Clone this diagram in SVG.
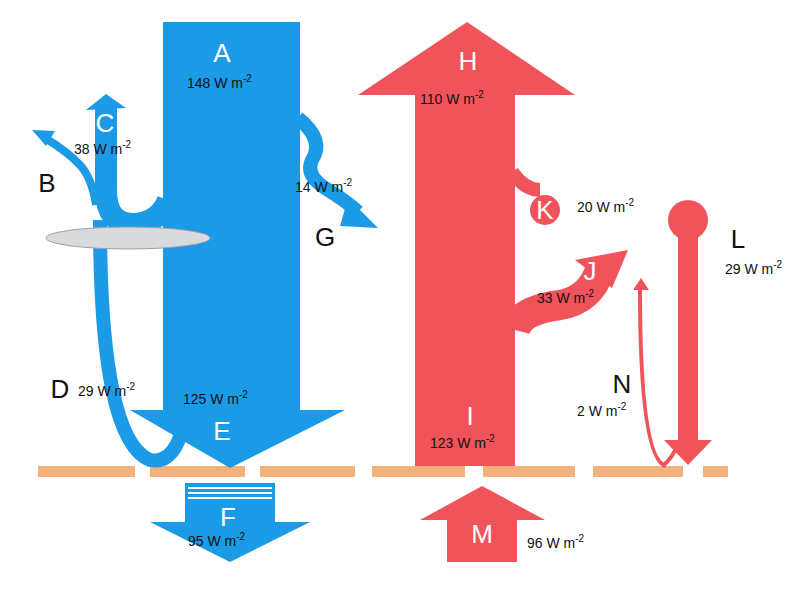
<svg xmlns="http://www.w3.org/2000/svg" width="806" height="600" viewBox="0 0 806 600">
<style>
.b{fill:#1b9ae6}.r{fill:#f0545a}.bs{fill:none;stroke:#1b9ae6}.rs{fill:none;stroke:#f0545a}
.g{fill:#f2b07a}
.L{font-family:"Liberation Sans",Arial,sans-serif;font-size:26px;fill:#fff;text-anchor:middle}
.K{font-family:"Liberation Sans",Arial,sans-serif;font-size:26px;fill:#111;text-anchor:middle}
.v{font-family:"Liberation Sans",Arial,sans-serif;font-size:14px;fill:#111}
</style>
<rect width="806" height="600" fill="#fff"/>
<g id="ground">
<rect class="g" x="38" y="466" width="97" height="11"/><rect class="g" x="150" y="466" width="95" height="11"/><rect class="g" x="260" y="466" width="95" height="11"/><rect class="g" x="372" y="466" width="93" height="11"/><rect class="g" x="483" y="466" width="92" height="11"/><rect class="g" x="593" y="466" width="90" height="11"/><rect class="g" x="703" y="466" width="25" height="11"/>
</g>
<g id="connectors">
<path class="bs" stroke-width="22" d="M106 108 V190 Q106 225 135 224 Q160 222 168 200"/>
<polygon class="b" points="86,110 106,94 126,108"/>
<path class="bs" stroke-width="8" d="M96 205 Q92 178 80 165 Q68 152 45 138"/>
<polygon class="b" points="32,130 55,131 46,146"/>
<path class="bs" stroke-width="14" d="M100 220 Q100 440 150 460 Q175 465 185 420"/>
<path class="bs" stroke-width="14" d="M298 118 Q325 140 312 160 Q305 175 325 188 Q345 200 358 212"/>
<polygon class="b" points="348,198 378,228 340,226"/>
<path class="rs" stroke-width="14" d="M512 172 Q525 190 540 190"/>
<path class="rs" stroke-width="30" d="M515 330 Q520 310 560 305 Q590 300 600 270"/>
<polygon class="r" points="575,260 628,250 612,288"/>
<path class="rs" stroke-width="4" d="M666 466 Q640 460 640 290"/>
<polygon class="r" points="633,290 641,278 649,290"/>
<path class="rs" stroke-width="4" d="M662 466 Q672 460 680 440"/>
</g>
<g id="A"><polygon class="b" points="163,22 300,22 300,410 345,410 230,468 130,410 163,410"/>
<text class="L" x="222" y="62">A</text><text class="v" x="187" y="88">148 W m<tspan dy="-6" font-size="10">-2</tspan></text></g>
<g id="cloud"><ellipse cx="128" cy="238" rx="82" ry="11" fill="#d8dbde" stroke="#9aa0a6"/></g>
<g id="B"><text class="K" x="47" y="192">B</text></g>
<g id="C"><text class="L" x="105" y="132">C</text><text class="v" x="74" y="154">38 W m<tspan dy="-6" font-size="10">-2</tspan></text></g>
<g id="D"><text class="K" x="60" y="398">D</text><text class="v" x="78" y="396">29 W m<tspan dy="-6" font-size="10">-2</tspan></text></g>
<g id="E"><text class="L" x="222" y="440">E</text><text class="v" x="183" y="404">125 W m<tspan dy="-6" font-size="10">-2</tspan></text></g>
<g id="F"><polygon class="b" points="185,483 275,483 275,522 310,522 230,562 150,522 185,522"/>
<line x1="188" y1="488" x2="272" y2="488" stroke="#fff" stroke-width="2"/><line x1="188" y1="493" x2="272" y2="493" stroke="#fff" stroke-width="2"/><line x1="188" y1="498" x2="272" y2="498" stroke="#fff" stroke-width="2"/>
<text class="L" x="228" y="526">F</text><text class="v" x="188" y="546">95 W m<tspan dy="-6" font-size="10">-2</tspan></text></g>
<g id="G"><text class="K" x="325" y="246">G</text><text class="v" x="295" y="192">14 W m<tspan dy="-6" font-size="10">-2</tspan></text></g>
<g id="H"><polygon class="r" points="415,466 415,95 358,95 467,22 575,95 515,95 515,466"/>
<text class="L" x="468" y="70">H</text><text class="v" x="420" y="104">110 W m<tspan dy="-6" font-size="10">-2</tspan></text>
<text class="L" x="470" y="425">I</text><text class="v" x="430" y="448">123 W m<tspan dy="-6" font-size="10">-2</tspan></text></g>
<g id="K"><circle class="r" cx="545" cy="210" r="15"/><text class="L" x="545" y="219" font-size="22">K</text><text class="v" x="577" y="212">20 W m<tspan dy="-6" font-size="10">-2</tspan></text></g>
<g id="J"><text class="L" x="590" y="280" font-size="22">J</text><text class="v" x="537" y="303">33 W m<tspan dy="-6" font-size="10">-2</tspan></text></g>
<g id="L"><circle class="r" cx="688" cy="220" r="20"/><polygon class="r" points="678,225 698,225 698,440 712,440 688,465 664,440 678,440"/>
<text class="K" x="738" y="248">L</text><text class="v" x="725" y="274">29 W m<tspan dy="-6" font-size="10">-2</tspan></text></g>
<g id="N"><text class="K" x="622" y="393">N</text><text class="v" x="577" y="416">2 W m<tspan dy="-6" font-size="10">-2</tspan></text></g>
<g id="M"><polygon class="r" points="447,562 517,562 517,520 545,520 482,486 420,520 447,520"/>
<text class="L" x="482" y="543">M</text><text class="v" x="527" y="548">96 W m<tspan dy="-6" font-size="10">-2</tspan></text></g>
</svg>
